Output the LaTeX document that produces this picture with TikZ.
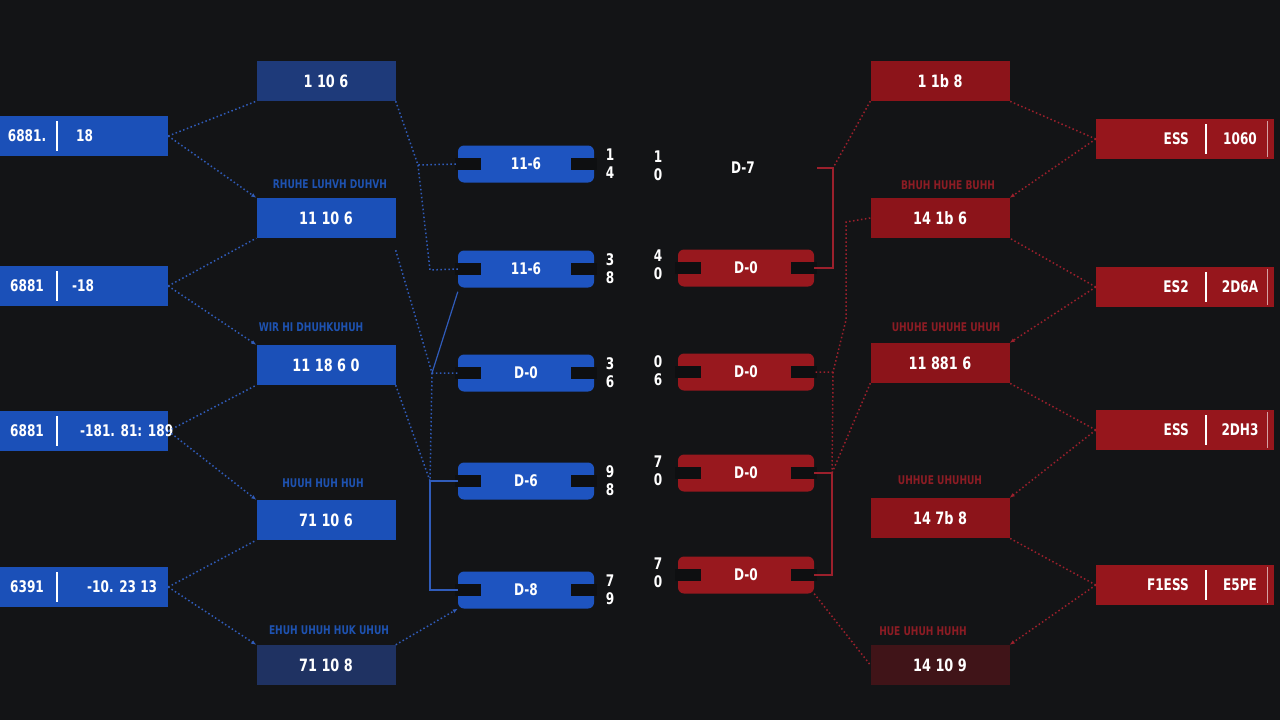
\documentclass[tikz,border=0pt]{standalone}
\usepackage{fontspec}
\setmainfont{DejaVu Sans Condensed}
\newfontfamily\narrowfont{DejaVu Sans Condensed}[FakeStretch=0.84]
\usetikzlibrary{arrows.meta}
\definecolor{bgdark}{RGB}{19,20,22}
\definecolor{seedblue}{RGB}{27,80,184}
\definecolor{bluedeep}{RGB}{30,58,122}
\definecolor{bluedark}{RGB}{31,50,98}
\definecolor{pillblue}{RGB}{30,84,192}
\definecolor{tagblue}{RGB}{30,82,176}
\definecolor{linkblue}{RGB}{48,92,186}
\definecolor{seedred}{RGB}{150,22,28}
\definecolor{redbox}{RGB}{140,20,26}
\definecolor{reddark}{RGB}{64,20,24}
\definecolor{pillred}{RGB}{152,24,30}
\definecolor{tagred}{RGB}{140,28,36}
\definecolor{linkred}{RGB}{156,32,44}
\definecolor{notchdark}{RGB}{14,15,17}
\tikzset{
  seedbox/.style={fill=#1, minimum width=168pt, minimum height=40pt, inner sep=0pt},
  flatbox/.style={fill=#1, minimum width=139pt, minimum height=40pt, inner sep=0pt,
    text=white, font=\narrowfont\bfseries\fontsize{17}{19}\selectfont},
  pillbox/.style={fill=#1, rounded corners=6pt, minimum width=136pt, minimum height=37pt,
    inner sep=0pt, text=white, font=\narrowfont\bfseries\fontsize{16}{18}\selectfont},
  boxtext/.style={text=white, inner sep=0pt, font=\narrowfont\bfseries\fontsize{16}{18}\selectfont},
  numtext/.style={text=white, inner sep=0pt, font=\narrowfont\bfseries\fontsize{16}{17}\selectfont},
  tag/.style={text=#1, inner sep=0pt, font=\narrowfont\bfseries\fontsize{12}{13}\selectfont},
  notch/.style={fill=notchdark},
  divider/.style={draw=white!85, line width=1.6pt},
  linkb/.style={draw=linkblue, line width=1.5pt, dash pattern=on 1.5pt off 2.5pt},
  linkr/.style={draw=linkred, line width=1.5pt, dash pattern=on 1.5pt off 2.5pt},
  wireb/.style={draw=linkblue, line width=1.2pt},
  wirer/.style={draw=linkred, line width=1.2pt},
  tip/.style={-{Latex[length=5pt,width=4pt]}}
}
\begin{document}
\begin{tikzpicture}[x=1pt,y=-1pt]
\fill[bgdark] (0,0) rectangle (1280,720);
\useasboundingbox (0,0) rectangle (1280,720);

% Left seeds
\foreach \i/\y/\ltxt/\rtxt/\rx in {1/136/6881./18/76, 2/286/6881/-18/72, 3/431/6881/-181. 81: 189/80, 4/587/6391/-10. 23 13/87} {
  \node[seedbox=seedblue] (a\i) at (84,\y) {};
  \draw[divider] ([xshift=-27pt,yshift=15pt]a\i.center) -- ([xshift=-27pt,yshift=-15pt]a\i.center);
  \node[boxtext] (a\i-l) at (27,\y) {\ltxt};
  \node[boxtext, anchor=west] (a\i-r) at (\rx,\y) {\rtxt};
}

% Left second round
\foreach \i/\y/\col/\txt in {1/81/bluedeep/1 10 6, 2/218/seedblue/11 10 6, 3/365/seedblue/11 18 6 0, 4/520/seedblue/71 10 6, 5/665/bluedark/71 10 8}
  \node[flatbox=\col] (b\i) at (326,\y) {\txt};
\node[tag=tagblue] (b2-tag) at (330,184) {RHUHE LUHVH DUHVH};
\node[tag=tagblue] (b3-tag) at (311,327) {WIR HI DHUHKUHUH};
\node[tag=tagblue] (b4-tag) at (323,483) {HUUH HUH HUH};
\node[tag=tagblue] (b5-tag) at (329,630) {EHUH UHUH HUK UHUH};

% Blue centre pills
\foreach \i/\y/\txt/\na/\nb in {1/164/11-6/1/4, 2/269/11-6/3/8, 3/373/D-0/3/6, 4/481/D-6/9/8, 5/590/D-8/7/9} {
  \node[pillbox=pillblue] (c\i) at (526,\y) {\txt};
  \fill[notch] ([xshift=-3pt]c\i.west) ++(0,-6) rectangle ++(26,12);
  \fill[notch] ([xshift=3pt]c\i.east) ++(0,-6) rectangle ++(-26,12);
  \node[numtext] (c\i-a) at (610,\y-9) {\na};
  \node[numtext] (c\i-b) at (610,\y+9) {\nb};
}

% Middle scores
\foreach \i/\y/\na/\nb in {1/166/1/0, 2/265/4/0, 3/371/0/6, 4/471/7/0, 5/573/7/0} {
  \node[numtext] (m\i-a) at (658,\y-9) {\na};
  \node[numtext] (m\i-b) at (658,\y+9) {\nb};
}
\node[numtext] (d0) at (743,168) {D-7};

% Red centre pills
\foreach \i/\y in {1/268, 2/372, 3/473, 4/575} {
  \node[pillbox=pillred] (d\i) at (746,\y) {D-0};
  \fill[notch] ([xshift=-3pt]d\i.west) ++(0,-6) rectangle ++(26,12);
  \fill[notch] ([xshift=3pt]d\i.east) ++(0,-6) rectangle ++(-26,12);
}

% Right second round
\foreach \i/\y/\col/\txt in {1/81/redbox/1 1b 8, 2/218/redbox/14 1b 6, 3/363/redbox/11 881 6, 4/518/redbox/14 7b 8, 5/665/reddark/14 10 9}
  \node[flatbox=\col] (e\i) at (940,\y) {\txt};
\node[tag=tagred] (e2-tag) at (948,185) {BHUH HUHE BUHH};
\node[tag=tagred] (e3-tag) at (946,327) {UHUHE UHUHE UHUH};
\node[tag=tagred] (e4-tag) at (940,480) {UHHUE UHUHUH};
\node[tag=tagred] (e5-tag) at (923,631) {HUE UHUH HUHH};

% Right seeds
\foreach \i/\y/\ltxt/\rtxt in {1/139/ESS/1060, 2/287/ES2/2D6A, 3/430/ESS/2DH3, 4/585/F1ESS/E5PE} {
  \node[seedbox=seedred, minimum width=178pt] (f\i) at (1185,\y) {};
  \draw[divider] ([xshift=21pt,yshift=15pt]f\i.center) -- ([xshift=21pt,yshift=-15pt]f\i.center);
  \draw[draw=white!60!seedred, line width=1pt] ([xshift=82pt,yshift=18pt]f\i.center) -- ([xshift=82pt,yshift=-18pt]f\i.center);
  \node[boxtext, anchor=east] (f\i-l) at (1189,\y) {\ltxt};
  \node[boxtext] (f\i-r) at (1240,\y) {\rtxt};
}

% Seed links
\foreach \i in {1,...,4} {
  \pgfmathtruncatemacro\nx{\i+1}
  \draw[linkb] (a\i.east) -- (b\i.south west);
  \draw[linkb,tip] (a\i.east) -- (b\nx.north west);
  \draw[linkr] (f\i.west) -- (e\i.south east);
  \draw[linkr,tip] (f\i.west) -- (e\nx.north east);
}

% Blue wiring
\coordinate (bj1) at (418,165);
\coordinate (bj2) at (430,270);
\coordinate (bj3) at (432,373);
\coordinate (bj4) at (430,481);
\coordinate (bj5) at (430,590);
\draw[linkb] (b1.south east) -- (bj1) -- (c1.west);
\draw[linkb] (bj1) -- (bj2) -- (c2.west);
\draw[linkb] ([yshift=-12pt]b2.south east) -- (bj3) -- (c3.west);
\draw[wireb] ([yshift=-4pt]c2.south west) -- (bj3);
\draw[linkb] (b3.south east) -- (bj4);
\draw[linkb] (bj3) -- (bj4);
\draw[wireb] (c4.west) -- (bj4) -- (bj5) -- (c5.west);
\draw[linkb,tip] (b5.north east) -- (c5.south west);

% Red wiring
\coordinate (rj00) at (817,168);
\coordinate (rj0) at (833,168);
\coordinate (rj1) at (833,268);
\coordinate (rj2) at (846,222);
\coordinate (rj3) at (846,320);
\coordinate (rj4) at (833,372);
\coordinate (rj5) at (832,473);
\coordinate (rj6) at (832,575);
\draw[wirer] (rj00) -- (rj0) -- (rj1) -- (d1.east);
\draw[linkr] (e1.south west) -- (rj0);
\draw[linkr] (e2.west) -- (rj2) -- (rj3) -- (rj4) -- (d2.east);
\draw[linkr] (e3.south west) -- (rj5);
\draw[linkr] (rj4) -- (rj5);
\draw[wirer] (d3.east) -- (rj5) -- (rj6) -- (d4.east);
\draw[linkr] (d4.south east) -- (e5.west);
\end{tikzpicture}
\end{document}
